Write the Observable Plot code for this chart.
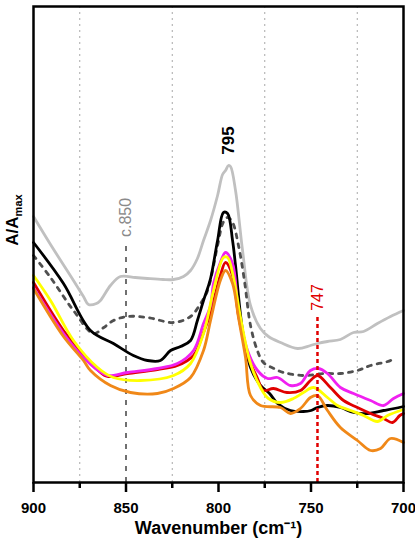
<!DOCTYPE html>
<html><head><meta charset="utf-8">
<script src="https://cdn.jsdelivr.net/npm/d3@7"></script>
<script src="https://cdn.jsdelivr.net/npm/@observablehq/plot@0.6"></script>
<style>
body{margin:0;background:#fff;}
#chart svg{display:block;font-family:"Liberation Sans",Arial,sans-serif;}
</style>
</head><body><div id="chart"></div>
<script>
// x ticks (wavenumber, cm-1)
const majorTicks = [900, 850, 800, 750, 700];
const minorTicks = [875, 825, 775, 725];
const gridLines = [875, 825, 775, 725];

// spectra: [wavenumber, A/Amax (arbitrary units)]
const specGray = [[900,266],[890.8,238],[878.4,202],[873,186],[870.3,178],[866,179],[863.8,182],[858.4,197],[853,206],[845,205],[838.4,204],[830,203],[824.3,203],[818.9,206],[815.1,212],[811.4,224],[808.1,242],[804.3,262],[800.5,287],[797.8,308],[796.2,312],[794.6,317],[793.5,316],[790.8,292],[787,232],[782.7,177],[777.3,154],[773,146],[766.5,140],[757.3,134],[750.3,137],[746.5,139],[741.1,141],[734.1,143],[727,150],[721.6,151],[714.1,159],[707,166],[700,172]];
const specDashed = [[900,227],[890.8,205],[878.4,172],[867.6,149],[862,155],[856.8,162],[849.2,166],[838.4,165],[824.3,160],[815.1,166],[809.7,179],[805.9,192],[800.5,237],[797.5,260],[795.1,265],[792.4,260],[789.2,237],[786,202],[782.7,157],[779,132],[775.7,120],[770,114],[764.9,110],[754.1,107],[743.2,109],[734.1,109],[724.9,112],[717.8,117],[707,122],[705.9,124]];
const specBlack = [[900,240],[883.8,199],[869.2,152],[856.8,139],[846,127],[838.4,122],[831.4,122],[825.9,132],[820.5,136],[815.1,142],[811.4,162],[808.1,182],[804.3,204],[800.5,242],[797.3,270],[795.1,269],[792.4,242],[790.8,217],[787,152],[782.7,115],[777.3,97],[772.4,89],[768.1,79],[761.1,72],[754.1,71],[750,72],[746.5,75],[741.1,77],[734.1,75],[727,70],[719.5,69],[710.8,72],[705,74],[700,76]];
const specRed = [[900,200],[883.8,152],[873,127],[865,112],[860,106],[849.2,109],[833,113],[822.2,117],[813.5,127],[808.1,150],[804.3,170],[799,207],[796.2,220],[792.4,207],[789.2,167],[784.3,127],[778.9,104],[775.7,92],[770.3,94],[763,90],[755.7,92],[750.3,102],[746.5,107],[739.5,95],[732.4,82],[724.9,75],[717.8,69],[710.8,64],[706,60],[702,67],[700,69]];
const specMagenta = [[900,195],[883.8,149],[873,125],[865,112],[860,107],[849.2,110],[833,114],[822.2,119],[813.5,132],[808.1,159],[804.3,177],[802.7,199],[799,220],[796.2,230],[792.4,219],[789.2,172],[784.3,132],[778.9,112],[773.5,104],[768.1,105],[761.1,97],[755.7,99],[750.3,112],[745.9,114],[741.1,109],[734.1,95],[727,89],[717.8,82],[710.8,77],[705.4,84],[700,89]];
const specYellow = [[900,207],[890.8,182],[878.4,142],[865.4,115],[856.8,105],[842.2,102],[824.3,107],[815.1,119],[808.1,149],[802.7,192],[797.3,225],[795.1,225],[791.9,205],[788.1,165],[782.7,119],[777.3,95],[773,84],[766.5,80],[759.5,84],[754.1,90],[748.6,95],[741.1,85],[735.7,77],[728.6,72],[721.6,67],[714.1,61],[708.6,67],[700,73]];
const specOrange = [[900,194],[883.8,146],[873,122],[869.2,112],[858.4,97],[847.6,90],[833,89],[824.3,94],[815.1,105],[808.1,132],[804.3,162],[799,202],[796.2,212],[792.4,199],[789.2,165],[785.4,125],[782.7,87],[777.3,77],[766.5,75],[761.1,69],[755.7,74],[750.3,85],[746.5,87],[741.1,72],[734.1,55],[724.9,42],[717.8,32],[712.4,34],[707,44],[700,40]];

// annotations: [label, wavenumber, level]
const peakLabels = [["795", 794.6, 342]];
const shoulderLabels = [["c.850", 850, 265]];
const bandLabels = [["747", 746.5, 185]];
const shoulderLine = [[850, 237]];
const bandLine = [[746.5, 167]];

const toRows = (arr) => arr.map(([w, a]) => ({w, a}));

const lineStyle = {x: "w", y: "a", strokeWidth: 2.8, curve: "catmull-rom"};

const chart = Plot.plot({
  width: 415,
  height: 550,
  marginLeft: 33,
  marginRight: 12,
  marginTop: 6,
  marginBottom: 68,
  style: {fontFamily: "Liberation Sans, Arial, sans-serif", background: "#fff"},
  x: {domain: [900, 700], axis: null},
  y: {domain: [0, 476], axis: null},
  marks: [
    Plot.ruleX(gridLines, {stroke: "#a8a8a8", strokeDasharray: "2,4", strokeWidth: 1}),
    Plot.ruleX(shoulderLine, {x: d => d[0], y1: 0, y2: d => d[1], stroke: "#707070", strokeDasharray: "5,6", strokeWidth: 2}),
    Plot.line(toRows(specGray), {...lineStyle, stroke: "#c0c0c0"}),
    Plot.line(toRows(specDashed), {...lineStyle, stroke: "#505050", strokeDasharray: "4,6"}),
    Plot.line(toRows(specBlack), {...lineStyle, stroke: "#000000"}),
    Plot.line(toRows(specRed), {...lineStyle, stroke: "#e00000"}),
    Plot.line(toRows(specMagenta), {...lineStyle, stroke: "#f020f0"}),
    Plot.line(toRows(specYellow), {...lineStyle, stroke: "#ffff00"}),
    Plot.line(toRows(specOrange), {...lineStyle, stroke: "#f08818"}),
    Plot.ruleX(bandLine, {x: d => d[0], y1: 0, y2: d => d[1], stroke: "#e00000", strokeDasharray: "4,3", strokeWidth: 2.5}),
    Plot.text(peakLabels, {x: d => d[1], y: d => d[2], text: d => d[0], rotate: -90, fontSize: 17, fontWeight: "bold", fill: "#000"}),
    Plot.text(shoulderLabels, {x: d => d[1], y: d => d[2], text: d => d[0], rotate: -90, fontSize: 16, fill: "#8a8a8a"}),
    Plot.text(bandLabels, {x: d => d[1], y: d => d[2], text: d => d[0], rotate: -90, fontSize: 16, fill: "#e00000"}),
    Plot.frame({stroke: "#000", strokeWidth: 2.5}),
    Plot.axisX({ticks: majorTicks, tickSize: 10, tickPadding: 10, strokeWidth: 2.5, fontSize: 15, fontWeight: "bold", fill: "#000", label: null}),
    Plot.axisX({ticks: minorTicks, tickSize: 6, tickFormat: () => "", strokeWidth: 2.5, label: null}),
    Plot.text(["Wavenumber (cm⁻¹)"], {frameAnchor: "bottom", dy: 51, fontSize: 18, fontWeight: "bold", fill: "#000"})
  ]
});

// y-axis title with subscript
const svg = d3.select(chart);
const yl = svg.append("text")
  .attr("transform", "translate(18,220) rotate(-90)")
  .attr("text-anchor", "middle")
  .attr("font-size", 17)
  .attr("font-weight", "bold")
  .attr("fill", "#000");
yl.append("tspan").text("A/A");
yl.append("tspan").attr("font-size", 11).attr("dy", "0.35em").text("max");

document.getElementById("chart").appendChild(chart);
</script>
</body></html>
